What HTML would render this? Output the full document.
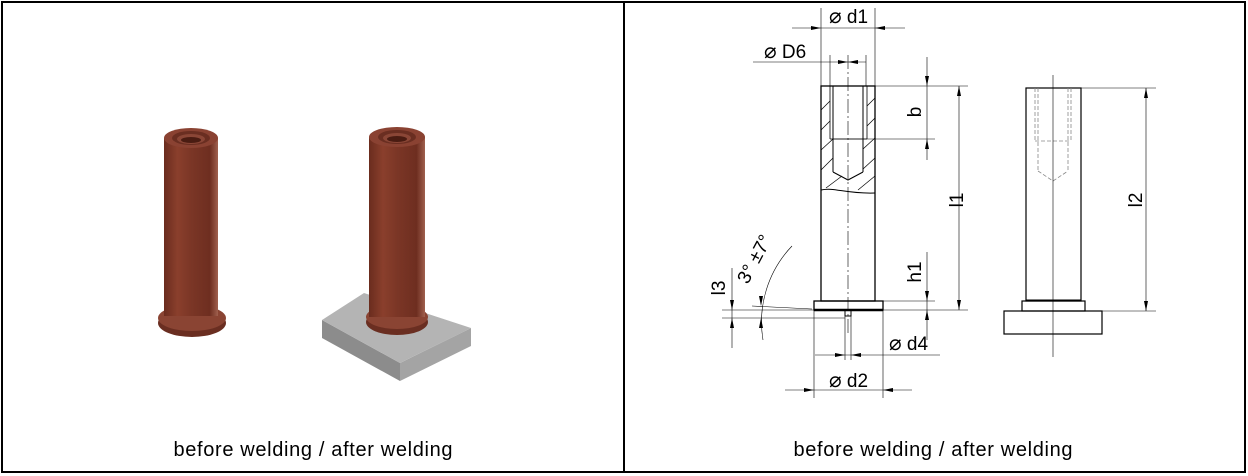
<!DOCTYPE html>
<html><head><meta charset="utf-8"><style>
html,body{margin:0;padding:0;background:#fff;}
svg{display:block}
text{font-family:"Liberation Sans",Arial,sans-serif;fill:#000}
</style></head><body>
<svg width="1248" height="476" viewBox="0 0 1248 476" xmlns="http://www.w3.org/2000/svg">
<defs>
<linearGradient id="cu" x1="0" x2="1" y1="0" y2="0">
<stop offset="0" stop-color="#6a2c1e"/><stop offset="0.25" stop-color="#8a3f2c"/><stop offset="0.5" stop-color="#7b3626"/><stop offset="0.85" stop-color="#6e2e20"/><stop offset="1" stop-color="#a0604e"/>
</linearGradient>
</defs>
<rect x="2" y="2" width="1243" height="470" fill="none" stroke="#000" stroke-width="2"/>
<line x1="624" y1="2" x2="624" y2="472" stroke="#000" stroke-width="2"/>
<text x="313" y="456" font-size="20" text-anchor="middle" textLength="279">before welding / after welding</text>
<text x="933" y="456" font-size="20" text-anchor="middle" textLength="279">before welding / after welding</text>

<!-- left 3D part -->
<ellipse cx="192" cy="323" rx="34" ry="14" fill="#6a2e21"/>
<ellipse cx="192" cy="318" rx="34" ry="13" fill="#8a4433"/>
<rect x="164" y="138" width="54" height="178" fill="url(#cu)"/>
<ellipse cx="191" cy="138" rx="27" ry="10" fill="#8a4232"/>
<ellipse cx="191" cy="138" rx="19" ry="7" fill="#6a2e21"/>
<ellipse cx="191" cy="139" rx="14" ry="5" fill="#8a4636"/>
<ellipse cx="191" cy="140" rx="10" ry="3" fill="#4a1c12"/>

<!-- right 3D part plate -->
<polygon points="322,320 322,338 400,381 400,363" fill="#8c8c8c"/>
<polygon points="400,363 400,381 471,346 471,328" fill="#a4a4a4"/>
<polygon points="322,320 364,293 471,328 400,363" fill="#b4b4b4"/>
<ellipse cx="397" cy="322" rx="31" ry="13" fill="#6a2e21"/>
<ellipse cx="397" cy="317" rx="31" ry="12" fill="#8a4433"/>
<rect x="369" y="137" width="56" height="180" fill="url(#cu)"/>
<ellipse cx="397" cy="137" rx="28" ry="10" fill="#8a4232"/>
<ellipse cx="397" cy="137" rx="19" ry="7" fill="#6a2e21"/>
<ellipse cx="397" cy="138" rx="14" ry="5" fill="#8a4636"/>
<ellipse cx="397" cy="139" rx="10" ry="3" fill="#4a1c12"/>

<!-- technical drawing left -->
<g stroke="#000" fill="none" stroke-width="1">
<rect x="821" y="86" width="54" height="215" stroke-width="1.3"/>
<rect x="814" y="301" width="69" height="9" stroke-width="1.3"/>
<line x1="814" y1="310" x2="883" y2="310" stroke-width="2.5"/>
<rect x="845" y="310" width="6" height="6"/>
<line x1="830" y1="86" x2="830" y2="139" stroke-width="0.8"/>
<line x1="833" y1="86" x2="833" y2="172"/>
<line x1="863" y1="86" x2="863" y2="172"/>
<line x1="867" y1="86" x2="867" y2="139" stroke-width="0.8"/>
<line x1="830" y1="139" x2="867" y2="139" stroke-width="0.8"/>
<polyline points="833,172 848,180 863,172"/>
<path d="M821,190 C835,187 845,194 875,193"/>
<g stroke-width="0.7">
<line x1="821" y1="110" x2="830" y2="101"/><line x1="821" y1="130" x2="830" y2="121"/>
<line x1="821" y1="150" x2="833" y2="139"/><line x1="821" y1="170" x2="833" y2="158"/><line x1="826" y1="188" x2="842" y2="176"/>
<line x1="867" y1="106" x2="875" y2="98"/><line x1="867" y1="126" x2="875" y2="118"/>
<line x1="863" y1="149" x2="875" y2="138"/><line x1="863" y1="169" x2="875" y2="158"/><line x1="858" y1="190" x2="875" y2="176"/>
</g>
<line x1="848" y1="55" x2="848" y2="335" stroke-width="0.6" stroke-dasharray="14,3,2,3"/>
<g stroke-width="0.6">
<line x1="821" y1="8" x2="821" y2="86"/><line x1="875" y1="8" x2="875" y2="86"/>
<line x1="792" y1="28" x2="905" y2="28"/>
<line x1="753" y1="62" x2="866" y2="62"/>
<line x1="830" y1="55" x2="830" y2="86"/><line x1="866" y1="55" x2="866" y2="86"/>
<line x1="875" y1="86" x2="968" y2="86"/>
<line x1="833" y1="139" x2="935" y2="139"/>
<line x1="883" y1="301" x2="935" y2="301"/>
<line x1="883" y1="310" x2="968" y2="310"/>
<line x1="722" y1="310" x2="814" y2="310"/>
<line x1="722" y1="318" x2="845" y2="318"/>
<line x1="752" y1="306" x2="812" y2="309"/>
<line x1="845" y1="316" x2="845" y2="360"/><line x1="851" y1="316" x2="851" y2="360"/>
<line x1="814" y1="310" x2="814" y2="398"/><line x1="883" y1="310" x2="883" y2="398"/>
<line x1="815" y1="355" x2="940" y2="355"/>
<line x1="785" y1="390" x2="912" y2="390"/>
<line x1="927" y1="57" x2="927" y2="160"/>
<line x1="927" y1="252" x2="927" y2="340"/>
<line x1="732" y1="268" x2="732" y2="348"/>
<path d="M792,246 A110,110 0 0 0 763,340"/>
</g>
</g>
<g fill="#000">
<polygon points="821,28 811,26 811,30"/><polygon points="875,28 885,26 885,30"/>
<polygon points="848,62 838,60 838,64"/><polygon points="848,62 858,60 858,64"/>
<polygon points="845,355 835,353 835,357"/><polygon points="851,355 861,353 861,357"/>
<polygon points="814,390 804,388 804,392"/><polygon points="883,390 893,388 893,392"/>
<polygon points="927,86 925,76 929,76"/><polygon points="927,139 925,149 929,149"/>
<polygon points="927,301 925,291 929,291"/><polygon points="927,310 925,320 929,320"/>
<polygon points="959,86 957,96 961,96"/><polygon points="959,310 957,300 961,300"/>
<polygon points="732,310 730,300 734,300"/><polygon points="732,318 730,328 734,328"/>
<polygon points="761,306 759,296 763,296"/><polygon points="761,318 759,328 763,328"/>
</g>
<line x1="959" y1="86" x2="959" y2="310" stroke="#000" stroke-width="0.6"/>
<g font-size="19">
<text x="829" y="23"><tspan font-size="21">⌀</tspan> d1</text>
<text x="764" y="58"><tspan font-size="21">⌀</tspan> D6</text>
<text x="889" y="350"><tspan font-size="21">⌀</tspan> d4</text>
<text x="829" y="387"><tspan font-size="21">⌀</tspan> d2</text>
<text transform="translate(921,112) rotate(-90)" text-anchor="middle">b</text>
<text transform="translate(963,200) rotate(-90)" text-anchor="middle">l1</text>
<text transform="translate(921,272) rotate(-90)" text-anchor="middle">h1</text>
<text transform="translate(725,288) rotate(-90)" text-anchor="middle">l3</text>
<text transform="translate(760,262) rotate(-62)" text-anchor="middle">3° ±7°</text>
<text transform="translate(1142,200) rotate(-90)" text-anchor="middle">l2</text>
</g>

<!-- right drawing -->
<g stroke="#000" fill="none">
<rect x="1026" y="88" width="55" height="213" stroke-width="1.2"/>
<rect x="1022" y="301" width="63" height="10" stroke-width="1.2"/>
<rect x="1004" y="311" width="98" height="23" stroke-width="1.2"/>
<line x1="1026" y1="300" x2="1081" y2="300"/>
<g stroke="#888" stroke-dasharray="4,2" stroke-width="0.8">
<line x1="1035" y1="88" x2="1035" y2="141"/><line x1="1038" y1="88" x2="1038" y2="170"/>
<line x1="1068" y1="88" x2="1068" y2="170"/><line x1="1071" y1="88" x2="1071" y2="141"/>
<line x1="1035" y1="141" x2="1071" y2="141"/>
<polyline points="1038,171 1053,181 1068,171"/>
</g>
<line x1="1053" y1="75" x2="1053" y2="357" stroke-width="0.6"/>
<line x1="1081" y1="88" x2="1156" y2="88" stroke-width="0.5"/>
<line x1="1102" y1="311" x2="1156" y2="311" stroke-width="0.5"/>
<line x1="1146" y1="88" x2="1146" y2="311" stroke-width="0.6"/>
</g>
<polygon points="1146,88 1144,98 1148,98" fill="#000"/><polygon points="1146,311 1144,301 1148,301" fill="#000"/>
</svg>
</body></html>
